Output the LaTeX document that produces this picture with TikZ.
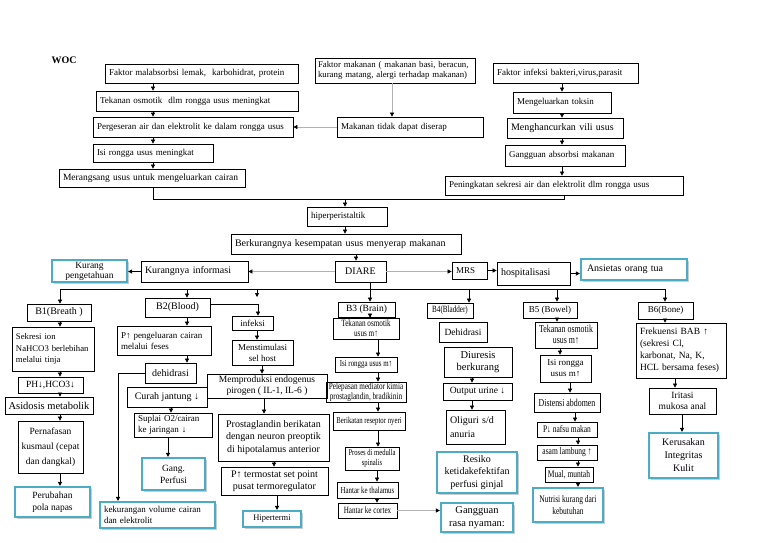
\documentclass[tikz,border=0pt]{standalone}
\usepackage{fontspec}
\setmainfont{Liberation Serif}
\newfontfamily\cond[FakeStretch=0.75]{Liberation Serif}
\usetikzlibrary{arrows.meta,shadows}
\definecolor{hlc}{RGB}{75,172,198}
\newcommand\fz[2]{\fontsize{#1}{#2}\selectfont}
\begin{document}
\begin{tikzpicture}[x=1pt,y=-1pt,
 box/.style={draw,line width=0.7pt,inner xsep=2pt,inner ysep=0.5pt,align=center,font=\fz{9}{11}},
 lbox/.style={box,align=left,inner xsep=4pt},
 hl/.style={box,draw=hlc,line width=2.2pt,fill=white,drop shadow={shadow xshift=1.8pt,shadow yshift=-1.8pt,fill=black!40}},
 arr/.style={-{Triangle[length=4pt,width=4pt]},line width=0.6pt},
 garr/.style={-{Triangle[length=4pt,width=4pt,color=black]},line width=0.6pt,draw=black!30},
 ln/.style={line width=0.6pt}]
\useasboundingbox (0,0) rectangle (768,543);
\node[font=\bfseries\fz{10}{12}] (woc) at (64,60) {WOC};
% top left chain
\node[lbox,text width=185pt,minimum height=19pt] (m1) at (201.5,73.5) {Faktor malabsorbsi lemak,\ \ karbohidrat, protein};
\node[lbox,text width=194pt,minimum height=20pt] (m2) at (197,101) {Tekanan osmotik\ \ dlm rongga usus meningkat};
\node[lbox,text width=192pt,minimum height=20pt] (m3) at (193,127) {Pergeseran air dan elektrolit ke dalam rongga usus};
\node[lbox,text width=112pt,minimum height=18pt] (m4) at (153,153) {Isi rongga usus meningkat};
\node[lbox,text width=178pt,minimum height=18pt,font=\fz{9.5}{11}] (m5) at (152,178) {Merangsang usus untuk mengeluarkan cairan};
% top middle
\node[lbox,inner xsep=3pt,text width=154pt,minimum height=25pt,font=\fz{8.8}{10.5}] (f1) at (395,70.5) {Faktor makanan ( makanan basi, beracun,\\kurang matang, alergi terhadap makanan)};
\node[lbox,text width=138pt,minimum height=20pt] (f2) at (410,127) {Makanan tidak dapat diserap};
% top right
\node[lbox,text width=137pt,minimum height=20pt] (i1) at (565.5,73) {Faktor infeksi bakteri,virus,parasit};
\node[lbox,text width=90pt,minimum height=21pt] (i2) at (562,102.5) {Mengeluarkan toksin};
\node[lbox,text width=108pt,minimum height=20pt,font=\fz{10}{11}] (i3) at (565,128) {Menghancurkan vili usus};
\node[lbox,text width=112pt,minimum height=21pt] (i4) at (565,155.5) {Gangguan absorbsi makanan};
\node[lbox,text width=230pt,minimum height=19pt] (i5) at (564,185.5) {Peningkatan sekresi air dan elektrolit dlm rongga usus};
% middle
\node[lbox,text width=72pt,minimum height=19pt] (hp) at (347,216.5) {hiperperistaltik};
\node[lbox,text width=222pt,minimum height=20pt,font=\fz{10}{11}] (bk) at (346,244) {Berkurangnya kesempatan usus menyerap makanan};
\node[box,minimum width=51pt,minimum height=21pt,font=\fz{10}{11}] (di) at (360.5,271.5) {DIARE};
\node[lbox,text width=99pt,minimum height=21pt,font=\fz{10}{11}] (ki) at (194.5,271.5) {Kurangnya informasi};
\node[hl,minimum width=75pt,minimum height=22pt,font=\fz{9.5}{10}] (kp) at (89.5,271) {Kurang\\pengetahuan};
\node[lbox,text width=27pt,minimum height=17pt] (mr) at (469.5,270.5) {MRS};
\node[lbox,text width=65pt,minimum height=23pt,font=\fz{10}{11}] (hs) at (533.5,273.5) {hospitalisasi};
\node[hl,align=left,inner xsep=6pt,text width=94pt,minimum height=21pt,font=\fz{10}{11}] (an) at (634,269.5) {Ansietas orang tua};
% B1
\node[box,minimum width=64pt,minimum height=17pt,font=\fz{10}{11}] (b1) at (59,312.5) {B1(Breath )};
\node[lbox,text width=74pt,minimum height=44pt,font=\fz{8.7}{11.5}] (b1a) at (53,349) {Sekresi ion\\NaHCO3 berlebihan\\melalui tinja};
\node[box,minimum width=65pt,minimum height=16pt,font=\fz{9.5}{11}] (b1b) at (50.5,385) {PH↓,HCO3↓};
\node[box,minimum width=88pt,minimum height=17pt,font=\fz{10.5}{11}] (b1c) at (49,405.5) {Asidosis metabolik};
\node[box,minimum width=65pt,minimum height=52pt,font=\fz{9.5}{15}] (b1d) at (50.5,447) {Pernafasan\\kusmaul (cepat\\dan dangkal)};
\node[hl,minimum width=75pt,minimum height=30pt,font=\fz{9.5}{12}] (b1e) at (52.5,502) {Perubahan\\pola napas};
% B2
\node[box,minimum width=65pt,minimum height=19pt,font=\fz{10}{11}] (b2) at (177.5,307.5) {B2(Blood)};
\node[lbox,text width=86pt,minimum height=29pt,font=\fz{9}{11}] (b2a) at (164,340.5) {P↑ pengeluaran cairan\\melalui feses};
\node[box,minimum width=51pt,minimum height=20pt,font=\fz{10}{11}] (b2b) at (170.5,373) {dehidrasi};
\node[box,minimum width=80pt,minimum height=20pt,font=\fz{10}{11}] (b2c) at (167,397) {Curah jantung ↓};
\node[lbox,text width=70pt,minimum height=24pt,font=\fz{9}{11}] (b2d) at (173,425) {Suplai O2/cairan\\ke jaringan ↓};
\node[hl,minimum width=63pt,minimum height=32pt,font=\fz{9.5}{12}] (b2e) at (173.5,474) {Gang.\\Perfusi};
\node[hl,align=left,inner xsep=4pt,text width=107pt,minimum height=26pt,font=\fz{9}{11}] (b2f) at (157.5,515) {kekurangan volume cairan\\dan elektrolit};
% infeksi branch
\node[box,minimum width=41pt,minimum height=14pt] (inf) at (252.5,323) {infeksi};
\node[box,minimum width=61pt,minimum height=25pt,font=\fz{9}{11}] (ms) at (262.5,352.5) {Menstimulasi\\sel host};
\node[box,minimum width=120pt,minimum height=24pt,font=\fz{9.5}{11}] (mp) at (267,386) {Memproduksi endogenus\\pirogen ( IL-1, IL-6 )};
\node[box,minimum width=111pt,minimum height=47pt,font=\fz{10}{12.5}] (pg) at (273.5,437.5) {Prostaglandin berikatan\\dengan neuron preoptik\\di hipotalamus anterior};
\node[box,minimum width=107pt,minimum height=28pt,font=\fz{10}{12}] (pt) at (274.5,481) {P↑ termostat set point\\pusat termoregulator};
\node[hl,minimum width=58pt,minimum height=16pt,font=\fz{8.5}{10}] (ht) at (272,519) {Hipertermi};
% B3
\node[box,minimum width=57pt,minimum height=15pt,font=\fz{9.5}{11}] (b3) at (366.5,309.5) {B3 (Brain)};
\node[box,minimum width=66pt,minimum height=21pt,font=\cond\fz{9.6}{9.5}] (b3a) at (366,328.5) {Tekanan osmotik\\usus m↑};
\node[box,minimum width=62pt,minimum height=15pt,font=\cond\fz{9.2}{10}] (b3b) at (366,364.5) {Isi rongga usus m↑};
\node[box,minimum width=80pt,minimum height=20pt,font=\cond\fz{9.6}{9.5}] (b3c) at (366,392) {Pelepasan mediator kimia\\prostaglandin, bradikinin};
\node[box,minimum width=72pt,minimum height=18pt,font=\cond\fz{9}{10}] (b3d) at (369,421) {Berikatan reseptor nyeri};
\node[box,minimum width=54pt,minimum height=23pt,font=\cond\fz{8.8}{10}] (b3e) at (372,458.5) {Proses di medulla\\spinalis};
\node[box,minimum width=61pt,minimum height=16pt,font=\cond\fz{9.2}{10}] (b3f) at (367.5,490) {Hantar ke thalamus};
\node[box,minimum width=59pt,minimum height=15pt,font=\cond\fz{9.5}{10}] (b3g) at (367.5,510.5) {Hantar ke cortex};
% B4
\node[box,minimum width=46pt,minimum height=15pt,font=\cond\fz{9.5}{10}] (b4) at (450,310.5) {B4(Bladder)};
\node[box,minimum width=48pt,minimum height=20pt,font=\fz{9.5}{11}] (b4a) at (463,332) {Dehidrasi};
\node[box,minimum width=68pt,minimum height=30pt,font=\fz{10.5}{12.5}] (b4b) at (478,362) {Diuresis\\berkurang};
\node[box,minimum width=69pt,minimum height=17pt,font=\fz{9.5}{11}] (b4c) at (477.5,391.5) {Output urine ↓};
\node[lbox,text width=51pt,minimum height=34pt,font=\fz{10}{14}] (b4d) at (475.5,427) {Oliguri s/d\\anuria};
\node[hl,minimum width=80pt,minimum height=41pt,font=\fz{10}{12.5}] (b4e) at (477,472.5) {Resiko\\ketidakefektifan\\perfusi ginjal};
\node[hl,minimum width=72pt,minimum height=29pt,font=\fz{10.5}{12.5}] (gn) at (477,517.5) {Gangguan\\rasa nyaman:};
% B5
\node[box,minimum width=54pt,minimum height=16pt,font=\fz{9}{11}] (b5) at (550,310) {B5 (Bowel)};
\node[box,minimum width=62pt,minimum height=26pt,font=\cond\fz{10.5}{11}] (b5a) at (566,335) {Tekanan osmotik\\usus m↑};
\node[box,minimum width=51pt,minimum height=27pt,font=\fz{9}{11}] (b5b) at (565.5,368.5) {Isi rongga\\usus m↑};
\node[box,minimum width=66pt,minimum height=19pt,font=\cond\fz{10.5}{11}] (b5c) at (567,402.5) {Distensi abdomen};
\node[box,minimum width=60pt,minimum height=15pt,font=\cond\fz{10}{11}] (b5d) at (567,429.5) {P↓ nafsu makan};
\node[box,minimum width=60pt,minimum height=15pt,font=\cond\fz{10}{11}] (b5e) at (567,452.5) {asam lambung ↑};
\node[box,minimum width=48pt,minimum height=15pt,font=\cond\fz{10}{11}] (b5f) at (569,474.5) {Mual, muntah};
\node[hl,minimum width=70pt,minimum height=34pt,font=\cond\fz{10}{12}] (b5g) at (568,505) {Nutrisi kurang dari\\kebutuhan};
% B6
\node[box,minimum width=55pt,minimum height=17pt,font=\fz{9}{11}] (b6) at (665.5,310.5) {B6(Bone)};
\node[lbox,text width=82pt,minimum height=55pt,font=\fz{9.5}{12}] (b6a) at (681,350.5) {Frekuensi BAB ↑\\(sekresi Cl,\\karbonat, Na, K,\\HCL bersama feses)};
\node[box,minimum width=67pt,minimum height=26pt,font=\fz{9.5}{11}] (b6b) at (682.5,401) {Iritasi\\mukosa anal};
\node[hl,minimum width=69pt,minimum height=45pt,font=\fz{10}{13}] (b6c) at (683.5,455.5) {Kerusakan\\Integritas\\Kulit};
% ---------- connectors
\draw[arr] (m1.south -| 153,0) -- (m2.north -| 153,0);
\draw[arr] (m2.south -| 153,0) -- (m3.north -| 153,0);
\draw[arr] (m3.south -| 153,0) -- (m4.north -| 153,0);
\draw[arr] (m4.south -| 153,0) -- (m5.north -| 153,0);
\coordinate (j) at (345,199);
\draw[ln] (m5.south -| 153,0) |- (j);
\draw[ln] (i5.south -| 564,0) |- (j);
\draw[arr] (j) -- (hp.north -| j);
\draw[arr] (hp.south -| 345,0) -- (bk.north -| 345,0);
\draw[arr] (bk.south -| 356,0) -- (di.north -| 356,0);
\draw[garr] (f1.south -| 392,0) -- (f2.north -| 392,0);
\draw[garr] (f2.west) -- (f2.west -| m3.east);
\draw[arr] (i1.south -| 562,0) -- (i2.north -| 562,0);
\draw[arr] (i2.south -| 562,0) -- (i3.north -| 562,0);
\draw[arr] (i3.south -| 562,0) -- (i4.north -| 562,0);
\draw[arr] (i4.south -| 562,0) -- (i5.north -| 562,0);
\draw[garr] (di.west) -- (ki.east);
\draw[arr] (ki.west) -- (ki.west -| kp.east);
\draw[garr] (di.east) -- (di.east -| mr.west);
\draw[arr] (mr.east) -- (mr.east -| hs.west);
\draw[arr] (hs.east) -- (hs.east -| an.west);
\coordinate (bus) at (0,289);
\draw[ln] (bus -| 60,0) -- (bus -| 665,0);
\draw[ln] (di.south -| 370,0) -- (bus -| 370,0);
\draw[arr] (bus -| 370,0) -- (b3.north -| 370,0);
\draw[arr] (bus -| 60,0) -- (b1.north -| 60,0);
\draw[arr] (bus -| 187,0) -- (b2.north -| 187,0);
\coordinate (ie) at (257,297);
\draw[arr] (bus -| 257,0) -- (ie);
\draw[arr] (bus -| 469,0) -- (b4.north -| 469,0);
\draw[arr] (bus -| 557,0) -- (b5.north -| 557,0);
\draw[arr] (bus -| 665,0) -- (b6.north -| 665,0);
% B1
\draw[arr] (b1.south -| 60,0) -- (b1a.north -| 60,0);
\draw[arr] (b1a.south -| 60,0) -- (b1b.north -| 60,0);
\draw[arr] (b1b.south -| 60,0) -- (b1c.north -| 60,0);
\draw[arr] (b1c.south -| 60,0) -- (b1d.north -| 60,0);
\draw[arr] (b1d.south -| 60,0) -- (b1e.north -| 60,0);
% B2
\draw[arr] (b2.south -| 187,0) -- (b2a.north -| 187,0);
\draw[arr] (b2a.south -| 187,0) -- (b2b.north -| 187,0);
\draw[arr] (b2b.west) -| (b2f.north -| 118,0);
\draw[arr] (b2c.south -| 171,0) -- (b2d.north -| 171,0);
\draw[arr] (b2d.south -| 168,0) -- (b2e.north -| 168,0);
\coordinate (iv) at (258,304);
\draw[ln] (b2.east |- iv) -- (iv);
\draw[arr] (iv) -- (inf.north -| iv);
\draw[arr] (inf.south -| 257,0) -- (ms.north -| 257,0);
\draw[arr] (ms.south -| 262,0) -- (mp.north -| 262,0);
\draw[arr] (mp.south -| 264,0) -- (pg.north -| 264,0);
\draw[arr] (pg.south -| 274,0) -- (pt.north -| 274,0);
\draw[arr] (pt.south -| 277,0) -- (ht.north -| 277,0);
% B3
\draw[arr] (b3.south -| 370,0) -- (b3a.north -| 370,0);
\draw[arr] (b3a.south -| 378,0) -- (b3b.north -| 378,0);
\draw[arr] (b3b.south -| 378,0) -- (b3c.north -| 378,0);
\draw[arr] (b3c.south -| 378,0) -- (b3d.north -| 378,0);
\draw[arr] (b3d.south -| 378,0) -- (b3e.north -| 378,0);
\draw[arr] (b3e.south -| 377,0) -- (b3f.north -| 377,0);
\draw[arr] (b3f.south -| 377,0) -- (b3g.north -| 377,0);
\draw[garr] (b3g.east) -- (b3g.east -| gn.west);
% B4
\draw[arr] (b4b.south -| 472,0) -- (b4c.north -| 472,0);
\draw[arr] (b4c.south -| 472,0) -- (b4d.north -| 472,0);
% B5
\draw[arr] (b5.south -| 557,0) -- (b5a.north -| 557,0);
\draw[arr] (b5a.south -| 560,0) -- (b5b.north -| 560,0);
\draw[arr] (b5b.south -| 570,0) -- (b5c.north -| 570,0);
\draw[arr] (b5c.south -| 575,0) -- (b5d.north -| 575,0);
\draw[arr] (b5d.south -| 578,0) -- (b5e.north -| 578,0);
\draw[arr] (b5e.south -| 578,0) -- (b5f.north -| 578,0);
\draw[arr] (b5f.south -| 578,0) -- (b5g.north -| 578,0);
% B6
\draw[arr] (b6.south -| 665,0) -- (b6a.north -| 665,0);
\draw[arr] (b6a.south -| 675,0) -- (b6b.north -| 675,0);
\draw[arr] (b6b.south -| 682,0) -- (b6c.north -| 682,0);
\end{tikzpicture}
\end{document}
